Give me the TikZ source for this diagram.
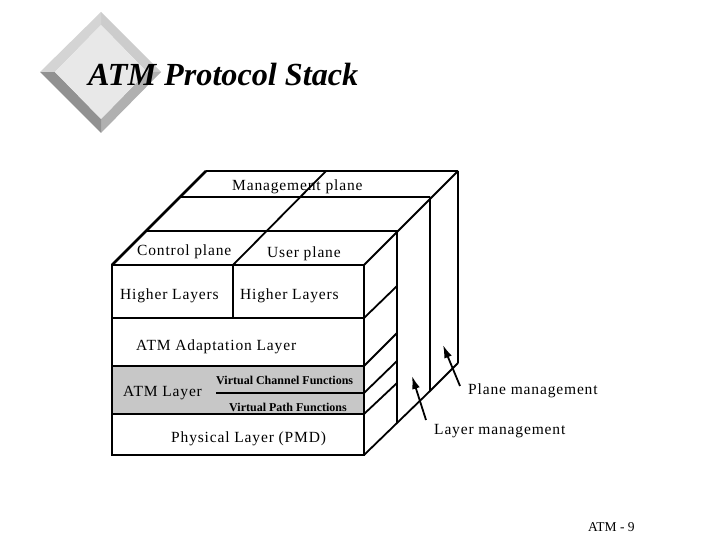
\documentclass[tikz,border=0pt]{standalone}
\usepackage{fontspec}
\setmainfont{Liberation Serif}
\usetikzlibrary{arrows.meta}
\tikzset{
  lbl/.style={inner sep=0pt,font=\fontsize{15.5}{17}\selectfont\addfontfeatures{LetterSpace=5.5}},
  smalllbl/.style={inner sep=0pt,font=\fontsize{12}{14}\selectfont\bfseries},
  ttl/.style={inner sep=0pt,font=\fontsize{32.2}{36}\selectfont\bfseries\itshape},
  wire/.style={black,line width=1.8pt},
  heavy/.style={black,line width=2.6pt},
  mgmt/.style={black,line width=1.8pt,-{Latex[length=13pt,width=8pt]}}
}
\begin{document}
\begin{tikzpicture}[x=1pt,y=-1pt]
      \useasboundingbox (0,0) rectangle (720,540);
      % bevelled diamond
      \coordinate (d1) at (101,12); \coordinate (d2) at (161,72);
      \coordinate (d3) at (101,133); \coordinate (d4) at (40,72);
      \coordinate (i1) at (101,25); \coordinate (i2) at (147,72);
      \coordinate (i3) at (101,119); \coordinate (i4) at (55,72);
      \fill[black!20] (d1) -- (d2) -- (i2) -- (i1) -- cycle;
      \fill[black!31] (d2) -- (d3) -- (i3) -- (i2) -- cycle;
      \fill[black!43] (d3) -- (d4) -- (i4) -- (i3) -- cycle;
      \fill[black!17] (d4) -- (d1) -- (i1) -- (i4) -- cycle;
      \fill[black!9] (i1) -- (i2) -- (i3) -- (i4) -- cycle;
      \node[ttl,anchor=base west] (title) at (88,86) {ATM Protocol Stack};
      % grey band first, lines go on top
      \fill[black!22] (112,366) rectangle (364,414);
      % front face
      \draw[wire] (112,265) coordinate (f1) -- (233,265) coordinate (f2) -- (364,265) coordinate (f3)
      			-- (364,318) coordinate (f4) -- (364,366) coordinate (f5) -- (364,393) coordinate (f6)
			-- (364,414) coordinate (f7) -- (364,455) coordinate (f8) -- (112,455) coordinate (f9) -- cycle;
      \draw[wire] (112,318) coordinate (f10) -- (f4) (f2) -- (233,318);
      \draw[heavy] (112,366) coordinate (f11) -- (f5) (112,414) coordinate (f12) -- (f7);
      \draw[wire] (216,393) coordinate (f13) -- (f6);
      % top and side
      \coordinate (t1) at (206,171); \coordinate (t2) at (326,171); \coordinate (t3) at (458,171);
      \coordinate (t4) at (180,197); \coordinate (t5) at (430,197);
      \coordinate (t6) at (146,231); \coordinate (t7) at (397,231);
      \draw[heavy] (f1) -- (t1);
      \draw[wire] (t1) -- (t3) (t4) -- (t5) (t6) -- (t7) (f2) -- (t2) (f3) -- (t3);
      \draw[wire] (t7) -- (397,423) coordinate (s1);
      \draw[wire] (t5) -- (430,391) coordinate (s2);
      \draw[wire] (t3) -- (458,363) coordinate (s3);
      \draw[wire] (f8) -- (s1) -- (s2) -- (s3);
      \draw[wire] (f4) -- (397,286) (f5) -- (397,333) (f6) -- (397,361) (f7) -- (397,383);
      % labels
      \node[lbl,anchor=base west] (mp) at (232,191) {Management plane};
      \node[lbl,anchor=base west] (cp) at (137,255) {Control plane};
      \node[lbl,anchor=base west] (up) at (267,257) {User plane};
      \node[lbl,anchor=base west] (hl1) at (120,299) {Higher Layers};
      \node[lbl,anchor=base west] (hl2) at (240,299) {Higher Layers};
      \node[lbl,anchor=base west] (aal) at (136,350) {ATM Adaptation Layer};
      \node[lbl,anchor=base west] (al) at (123,396) {ATM Layer};
      \node[smalllbl,anchor=base west] (vc) at (216,384) {Virtual Channel Functions};
      \node[smalllbl,anchor=base west] (vp) at (229,411) {Virtual Path Functions};
      \node[lbl,anchor=base west] (pl) at (171,442) {Physical Layer (PMD)};
      \node[lbl,anchor=base west] (pm) at (468,394) {Plane management};
      \node[lbl,anchor=base west] (lm) at (434,434) {Layer management};
      \node[inner sep=0pt,anchor=base west,font=\fontsize{13.5}{15}\selectfont] (pg) at (588,531) {ATM - 9};
      % arrows
      \coordinate (a1) at (460,386); \coordinate (a2) at (443,345);
      \coordinate (a3) at (426,420); \coordinate (a4) at (412,376);
      \draw[mgmt] (a1) -- (a2);
      \draw[mgmt] (a3) -- (a4);
\end{tikzpicture}
\end{document}
